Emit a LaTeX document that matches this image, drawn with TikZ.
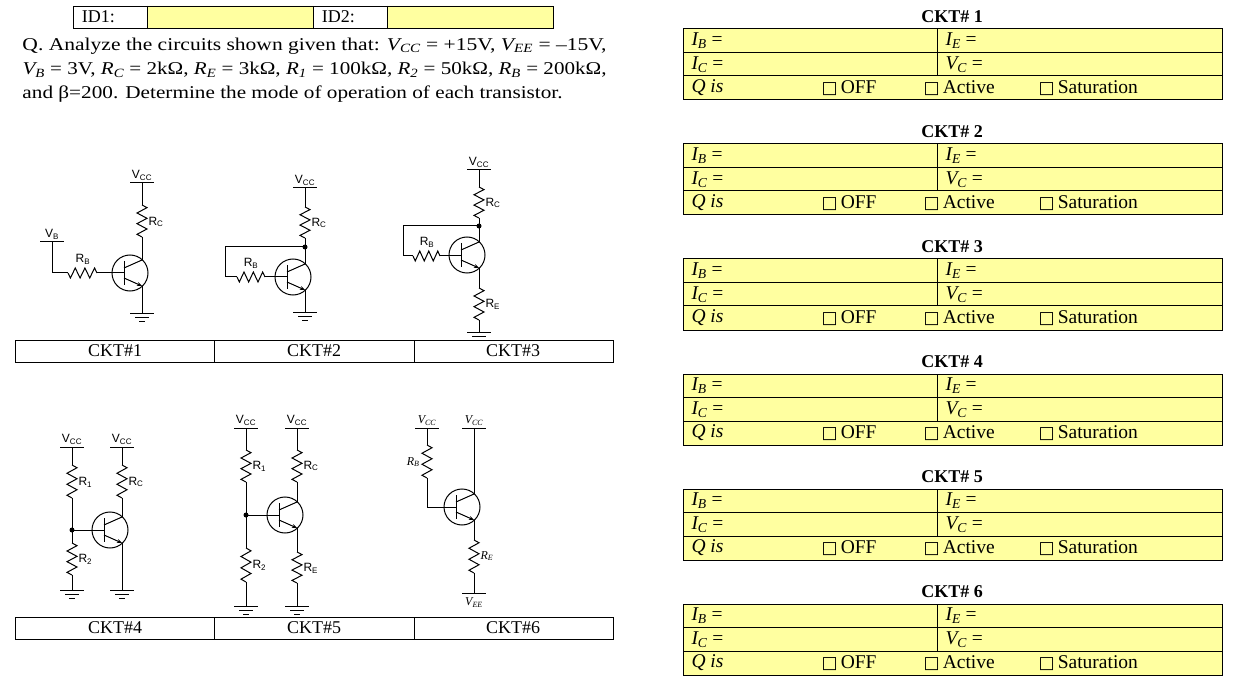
\documentclass[tikz,border=0pt]{standalone}
\usepackage{fontspec}
\setmainfont{Liberation Serif}
\setsansfont{Liberation Sans}
\newfontfamily\dvs{DejaVu Sans}
\usetikzlibrary{arrows.meta}
\definecolor{yel}{RGB}{255,255,160}
\newcommand\vres[3]{\pgfmathsetmacro\hh{(#3-#2)/6}\draw (#1,#2) -- ++(5,\hh/2) -- ++(-10,\hh) -- ++(10,\hh) -- ++(-10,\hh) -- ++(10,\hh) -- ++(-10,\hh) -- ++(5,\hh/2);}
\newcommand\hres[3]{\pgfmathsetmacro\hh{(#3-#2)/6}\draw (#2,#1) -- ++(\hh/2,5) -- ++(\hh,-10) -- ++(\hh,10) -- ++(\hh,-10) -- ++(\hh,10) -- ++(\hh,-10) -- ++(\hh/2,5);}
\newcommand\bjt[2]{\begin{scope}[shift={(#1,#2)}]
\draw (0,0) circle (18);
\draw (-6,-12) -- (-6,12);
\draw (-6,-5) -- (12,-13);
\draw[-{Stealth[length=5pt,width=4pt]}] (-6,5) -- (12,13);
\end{scope}}
\newcommand\gnd[2]{\draw (#1-12,#2) -- (#1+12,#2) (#1-7,#2+4) -- (#1+7,#2+4) (#1-3,#2+8) -- (#1+3,#2+8);}
\newcommand\vsup[3]{\draw (#1-12,#2) -- (#1+12,#2); \node[lbl,anchor=south] at (#1,#2-1) {#3};}
\newcommand\sV[1]{\textsf{V\textsubscript{#1}}}
\newcommand\sR[1]{\textsf{R\textsubscript{#1}}}
\newcommand\iv[2]{\textit{#1\textsubscript{#2}}}
\newcommand\bx{{\dvs\fontsize{17}{18}\selectfont □}}
\newcommand\ckttable[2]{%
\node[font=\fontsize{18}{20}\selectfont\bfseries] at (952,#1) {CKT\# #2};
\begin{scope}[shift={(0,#1+12)},every node/.style={font=\fontsize{19.5}{21}\selectfont,inner sep=1pt}]
\fill[yel] (683,0) rectangle (1222,71);
\draw (683,0) rectangle (1222,71) (683,23.5) -- (1222,23.5) (683,47) -- (1222,47) (937,0) -- (937,47);
\node[anchor=west] at (690,12) {\iv{I}{B} =};
\node[anchor=west] at (944,12) {\iv{I}{E} =};
\node[anchor=west] at (690,35.5) {\iv{I}{C} =};
\node[anchor=west] at (944,35.5) {\iv{V}{C} =};
\node[anchor=west] at (690,59) {\textit{Q is}};
\node[anchor=west] at (820,59) {\bx\,OFF};
\node[anchor=west] at (922,59) {\bx\,Active};
\node[anchor=west] at (1037,59) {\bx\,Saturation};
\end{scope}}
\begin{document}
\begin{tikzpicture}[x=1pt,y=-1pt,line width=1pt,
  lbl/.style={font=\fontsize{12}{13}\selectfont,inner sep=1pt},
  every node/.style={font=\fontsize{18}{20}\selectfont}]
\useasboundingbox (0,0) rectangle (1243,687);
% ID boxes
\fill[yel] (147,6) rectangle (313,28) (387,6) rectangle (553,28);
\draw[line width=0.7pt] (73,6) rectangle (553,28) (147,6)--(147,28) (313,6)--(313,28) (387,6)--(387,28);
\node[anchor=west] at (78,17) {ID1:};
\node[anchor=west] at (318,17) {ID2:};
% question
\node[anchor=west,inner sep=0] at (22,46) {\resizebox{584pt}{\height}{Q. Analyze the circuits shown given that: \iv{V}{CC} = +15V, \iv{V}{EE} = –15V,}};
\node[anchor=west,inner sep=0] at (22,70) {\resizebox{584pt}{\height}{\iv{V}{B} = 3V, \iv{R}{C} = 2kΩ, \iv{R}{E} = 3kΩ, \iv{R}{1} = 100kΩ, \iv{R}{2} = 50kΩ, \iv{R}{B} = 200kΩ,}};
\node[anchor=west,inner sep=0] at (22,94) {\resizebox{540pt}{\height}{and β=200. Determine the mode of operation of each transistor.}};
% label tables
\begin{scope}[line width=0.7pt]
\draw (15,340) rectangle (613,362) (214,340)--(214,362) (414,340)--(414,362);
\draw (15,617) rectangle (613,639) (214,617)--(214,639) (414,617)--(414,639);
\end{scope}
\node at (115,351) {CKT\#1}; \node at (314,351) {CKT\#2}; \node at (513,351) {CKT\#3};
\node at (115,628) {CKT\#4}; \node at (314,628) {CKT\#5}; \node at (513,628) {CKT\#6};
% CKT1
\bjt{130}{273}
\vsup{142}{183}{\sV{CC}}
\draw (142,183)--(142,205); \vres{142}{205}{237} \draw (142,237)--(142,260);
\node[lbl,anchor=west] at (147,222) {\sR{C}};
\draw (142,286)--(142,313); \gnd{142}{313}
\vsup{52}{242}{\sV{B}}
\draw (52,242)--(52,273)--(68,273); \hres{273}{68}{97} \draw (97,273)--(124,273);
\node[lbl] at (83,259) {\sR{B}};
% CKT2
\bjt{293}{277}
\vsup{305}{188}{\sV{CC}}
\draw (305,188)--(305,207); \vres{305}{207}{238} \draw (305,238)--(305,264);
\node[lbl,anchor=west] at (310,223) {\sR{C}};
\fill (305,247) circle (2.5);
\draw (305,247)--(225,247)--(225,277)--(237,277); \hres{277}{237}{265} \draw (265,277)--(287,277);
\node[lbl] at (251,263) {\sR{B}};
\draw (305,290)--(305,312); \gnd{305}{312}
% CKT3
\bjt{467}{255}
\vsup{479}{170}{\sV{CC}}
\draw (479,170)--(479,187); \vres{479}{187}{218} \draw (479,218)--(479,242);
\node[lbl,anchor=west] at (484,203) {\sR{C}};
\fill (479,226) circle (2.5);
\draw (479,226)--(403,226)--(403,256)--(413,256); \hres{256}{413}{440} \draw (440,256)--(461,256);
\node[lbl] at (427,242) {\sR{B}};
\draw (479,268)--(479,288); \vres{479}{288}{320} \draw (479,320)--(479,332); \gnd{479}{332}
\node[lbl,anchor=west] at (484,304) {\sR{E}};
% CKT4
\bjt{110}{530}
\vsup{72}{447}{\sV{CC}}
\draw (72,447)--(72,465); \vres{72}{465}{498} \draw (72,498)--(72,543); \vres{72}{543}{575} \draw (72,575)--(72,590); \gnd{72}{590}
\node[lbl,anchor=west] at (77,482) {\sR{1}};
\node[lbl,anchor=west] at (77,559) {\sR{2}};
\fill (72,530) circle (2.5); \draw (72,530)--(104,530);
\vsup{122}{447}{\sV{CC}}
\draw (122,447)--(122,465); \vres{122}{465}{498} \draw (122,498)--(122,517);
\node[lbl,anchor=west] at (127,482) {\sR{C}};
\draw (122,543)--(122,590); \gnd{122}{590}
% CKT5
\bjt{285}{515}
\vsup{246}{428}{\sV{CC}}
\draw (246,428)--(246,450); \vres{246}{450}{482} \draw (246,482)--(246,548); \vres{246}{548}{582} \draw (246,582)--(246,606); \gnd{246}{606}
\node[lbl,anchor=west] at (251,466) {\sR{1}};
\node[lbl,anchor=west] at (251,565) {\sR{2}};
\fill (246,515) circle (2.5); \draw (246,515)--(279,515);
\vsup{297}{428}{\sV{CC}}
\draw (297,428)--(297,450); \vres{297}{450}{482} \draw (297,482)--(297,502);
\node[lbl,anchor=west] at (302,466) {\sR{C}};
\draw (297,528)--(297,552); \vres{297}{552}{583} \draw (297,583)--(297,606); \gnd{297}{606}
\node[lbl,anchor=west] at (302,568) {\sR{E}};
% CKT6
\bjt{462}{507}
\vsup{427}{428}{\iv{V}{CC}}
\draw (427,428)--(427,445); \vres{427}{445}{478} \draw (427,478)--(427,507)--(456,507);
\node[lbl,anchor=east] at (421,462) {\iv{R}{B}};
\vsup{474}{428}{\iv{V}{CC}}
\draw (474,428)--(474,494);
\draw (474,520)--(474,540); \vres{474}{540}{573} \draw (474,573)--(474,593);
\node[lbl,anchor=west] at (479,556) {\iv{R}{E}};
\draw (462,593)--(486,593); \node[lbl,anchor=north] at (474,596) {\iv{V}{EE}};
% result tables
\ckttable{17}{1}
\ckttable{132}{2}
\ckttable{247}{3}
\ckttable{362}{4}
\ckttable{477}{5}
\ckttable{592}{6}
\end{tikzpicture}
\end{document}
